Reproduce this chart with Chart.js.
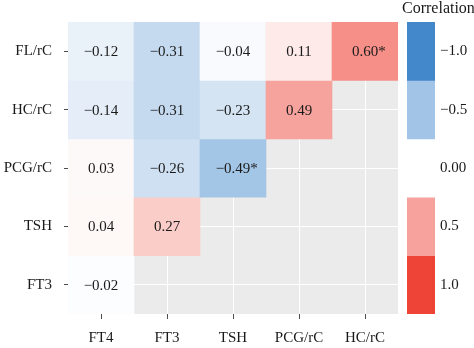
<!DOCTYPE html>
<html>
<head>
<meta charset="utf-8">
<script src="https://cdn.jsdelivr.net/npm/chart.js@4.4.1/dist/chart.umd.min.js"></script>
<style>
  html, body { margin: 0; padding: 0; background: #fff; }
  #wrap { position: relative; width: 474px; height: 348px; overflow: hidden; }
  #heat { position: absolute; left: 0; top: 0; }
  #scale { position: absolute; left: 398px; top: 0; }
</style>
</head>
<body>
<div id="wrap">
  <canvas id="heat" width="400" height="348"></canvas>
  <canvas id="scale" width="76" height="348"></canvas>
</div>
<script>
const rowNames = ['FL/rC', 'HC/rC', 'PCG/rC', 'TSH', 'FT3'];
const colNames = ['FT4', 'FT3', 'TSH', 'PCG/rC', 'HC/rC'];

// lower triangle of the correlation matrix, null = not shown
const corr = [
  [-0.12, -0.31, -0.04, 0.11, 0.60],
  [-0.14, -0.31, -0.23, 0.49, null],
  [0.03, -0.26, -0.49, null, null],
  [0.04, 0.27, null, null, null],
  [-0.02, null, null, null, null]
];
// [row, col] of the significant pairs
const starred = [[0, 4], [2, 2]];

const legendValues = [-1, -0.5, 0, 0.5, 1];
const legendLabels = ['\u22121.0', '\u22120.5', '0.00', '0.5', '1.0'];

const FONT = "'Liberation Serif', 'DejaVu Serif', serif";
const TEXT = '#1a1a1a';
const LOW = [68, 136, 204];
const HIGH = [238, 68, 56];

function colorFor(v) {
  const end = v < 0 ? LOW : HIGH;
  const t = Math.min(Math.abs(v), 1);
  const c = end.map(e => Math.round(255 + (e - 255) * t));
  return `rgb(${c[0]},${c[1]},${c[2]})`;
}

function fmt(v) {
  return v.toFixed(2).replace('-', '\u2212');
}

function isStarred(i, j) {
  return starred.some(p => p[0] === i && p[1] === j);
}

const panelBg = {
  id: 'panelBg',
  beforeDraw(chart) {
    const a = chart.chartArea, ctx = chart.ctx;
    ctx.save();
    ctx.fillStyle = '#ebebeb';
    ctx.fillRect(a.left, a.top, a.right - a.left, a.bottom - a.top);
    ctx.restore();
  }
};

const cellText = {
  id: 'cellText',
  afterDatasetsDraw(chart) {
    const ctx = chart.ctx;
    ctx.save();
    ctx.font = `15px ${FONT}`;
    ctx.fillStyle = TEXT;
    ctx.textBaseline = 'middle';
    chart.data.datasets.forEach((ds, i) => {
      chart.getDatasetMeta(i).data.forEach((bar, j) => {
        const v = corr[i][j];
        if (v === null) return;
        const p = bar.getCenterPoint();
        const s = fmt(v);
        ctx.textAlign = 'center';
        ctx.fillText(s, p.x, p.y + 1);
        if (isStarred(i, j)) {
          ctx.textAlign = 'left';
          ctx.fillText('*', p.x + ctx.measureText(s).width / 2, p.y + 1);
        }
      });
    });
    ctx.restore();
  }
};

const heatSets = rowNames.map((r, i) => ({
  label: r,
  data: colNames.map((c, j) => corr[i][j] === null ? null : [i, i + 1]),
  backgroundColor: colNames.map((c, j) => corr[i][j] === null ? 'rgba(0,0,0,0)' : colorFor(corr[i][j])),
  borderWidth: 0,
  barPercentage: 1,
  categoryPercentage: 1,
  grouped: false
}));

new Chart(document.getElementById('heat'), {
  type: 'bar',
  data: { labels: colNames, datasets: heatSets },
  plugins: [panelBg, cellText],
  options: {
    responsive: false,
    animation: false,
    devicePixelRatio: 1,
    layout: { padding: { top: 22, right: 2, left: 0, bottom: 0 } },
    plugins: { legend: { display: false }, tooltip: { enabled: false } },
    scales: {
      x: {
        type: 'category',
        offset: true,
        grid: { offset: false, color: '#ffffff', lineWidth: 1, tickColor: '#4d4d4d', tickLength: 5 },
        border: { display: false },
        ticks: { color: TEXT, padding: 10, font: { family: FONT, size: 15 }, maxRotation: 0 },
        afterFit(s) { s.height = 34; }
      },
      y: {
        type: 'linear',
        min: 0,
        max: 5,
        reverse: true,
        afterBuildTicks(s) { s.ticks = rowNames.map((r, i) => ({ value: i + 0.5 })); },
        grid: { color: '#ffffff', lineWidth: 1, tickColor: '#4d4d4d', tickLength: 4 },
        border: { display: false },
        ticks: {
          color: TEXT,
          padding: 12,
          font: { family: FONT, size: 15 },
          callback: (v, idx) => rowNames[idx]
        },
        afterFit(s) { s.width = 68; }
      }
    }
  }
});

// colour key on the right
const keyTitle = {
  id: 'keyTitle',
  afterDraw(chart) {
    const ctx = chart.ctx;
    ctx.save();
    ctx.font = `16px ${FONT}`;
    ctx.fillStyle = TEXT;
    ctx.textAlign = 'left';
    ctx.textBaseline = 'middle';
    ctx.fillText('Correlation', 4, 9);
    ctx.restore();
  }
};

new Chart(document.getElementById('scale'), {
  type: 'bar',
  data: {
    labels: ['key'],
    datasets: legendValues.map((v, k) => ({
      data: [[k, k + 1]],
      backgroundColor: colorFor(v),
      borderWidth: 0,
      barPercentage: 1,
      categoryPercentage: 1,
      grouped: false
    }))
  },
  plugins: [keyTitle],
  options: {
    responsive: false,
    animation: false,
    devicePixelRatio: 1,
    layout: { padding: { top: 22, left: 9, right: 0, bottom: 34 } },
    plugins: { legend: { display: false }, tooltip: { enabled: false } },
    scales: {
      x: { display: false },
      y: {
        position: 'right',
        type: 'linear',
        min: 0,
        max: 5,
        reverse: true,
        afterBuildTicks(s) { s.ticks = legendValues.map((v, k) => ({ value: k + 0.5 })); },
        grid: { display: false, drawTicks: false },
        border: { display: false },
        ticks: {
          color: TEXT,
          padding: 5,
          font: { family: FONT, size: 15 },
          callback: (v, idx) => legendLabels[idx]
        },
        afterFit(s) { s.width = 39; }
      }
    }
  }
});
</script>
</body>
</html>
